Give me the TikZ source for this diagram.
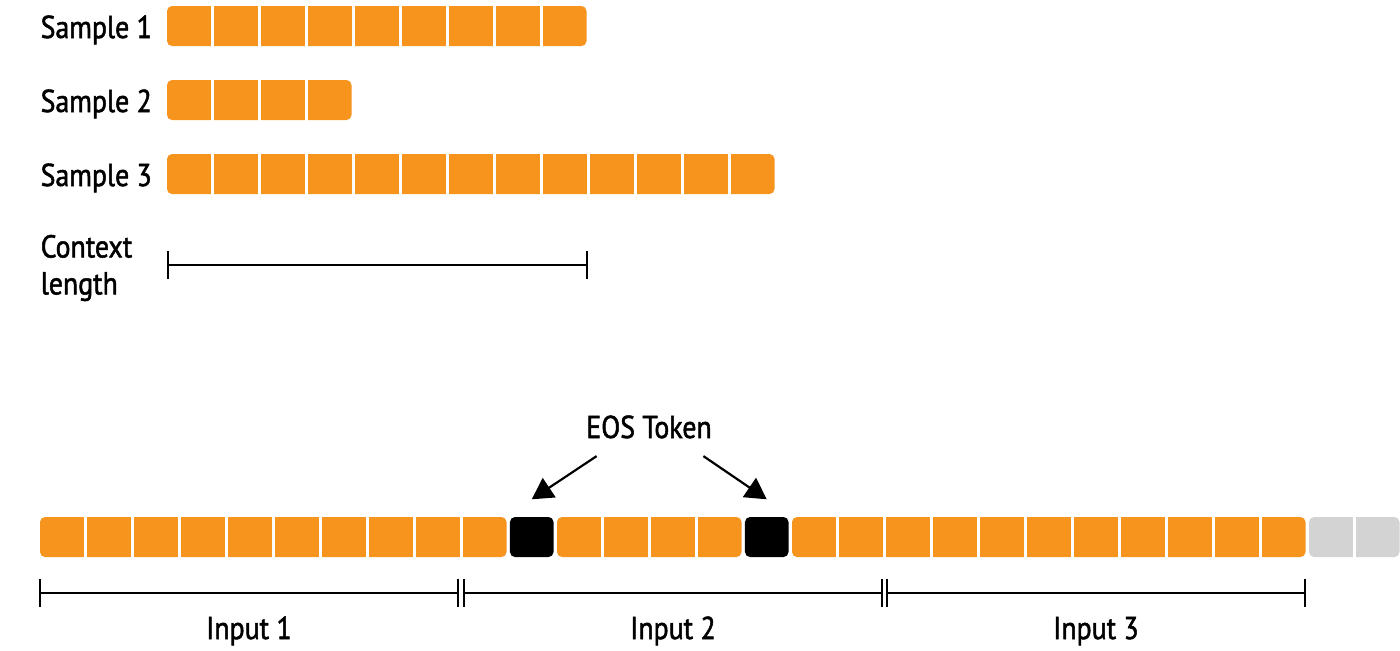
\documentclass[tikz,border=0pt]{standalone}
\usepackage{fontspec}
\setmainfont[FakeStretch=0.88, FakeBold=1.6]{PT Sans}
\usetikzlibrary{arrows.meta}
\definecolor{tok}{RGB}{247,148,30}
\definecolor{pad}{RGB}{211,211,211}
\newcommand{\cellw}{47}
\newcommand{\drawthin}{\draw[line width=0.022cm]}
\newcommand{\tokenrow}[4]{
    \fill[#4, rounded corners=0.05cm] (#1,#2-20) rectangle ++(#3*\cellw-3.5,40);
    \foreach \k in {2,...,#3}{
    \draw[white, line width=0.035cm] (#1+\k*\cellw-\cellw-1.75,#2-21)--++(0,42);
    }
}
\newcommand{\spanbar}[3]{
    \drawthin (#1,#3)--(#2,#3);
    \drawthin (#1,#3-14)--++(0,28);
    \drawthin (#2,#3-14)--++(0,28);
}
\tikzset{
  lbl/.style={inner sep=0pt, font=\fontsize{9}{10.5}\selectfont},
  eoscell/.style={fill=black, rounded corners=0.05cm, minimum width=0.435cm, minimum height=0.4cm, inner sep=0pt},
  eosarrow/.style={-{Triangle[length=0.21cm,width=0.23cm]}, line width=0.022cm}
}

\begin{document}
\begin{tikzpicture}[x=0.01cm, y=-0.01cm]
\useasboundingbox (0,0) rectangle (1400,650);
\node[lbl, anchor=base west] (s1) at (40,38) {Sample 1};
\node[lbl, anchor=base west] (s2) at (40,112) {Sample 2};
\node[lbl, anchor=base west] (s3) at (40,186) {Sample 3};
\node[lbl, anchor=west, align=left] (ctx) at (40,268) {Context\\length};
\tokenrow{167}{26}{9}{tok}
\tokenrow{167}{100}{4}{tok}
\tokenrow{167}{174}{13}{tok}
\spanbar{168}{587}{265}
% packed input
\tokenrow{40}{537}{10}{tok}
\node[eoscell] (eosA) at (40+10*\cellw+21.75,537) {};
\tokenrow{557}{537}{4}{tok}
\node[eoscell] (eosB) at (40+15*\cellw+21.75,537) {};
\tokenrow{792}{537}{11}{tok}
\tokenrow{1309}{537}{2}{pad}
\node[lbl, anchor=base] (eos) at (649,438) {EOS Token};
\draw[eosarrow] ([xshift=0.11cm, yshift=-0.17cm]eos.south west) -- ([yshift=0.17cm]eosA.north);
\draw[eosarrow] ([xshift=-0.09cm, yshift=-0.17cm]eos.south east) -- ([yshift=0.17cm]eosB.north);
\spanbar{40}{458}{593}\spanbar{464}{882}{593}\spanbar{887}{1305}{593}
\node[lbl, anchor=base] (in1) at (249,639) {Input 1};
\node[lbl, anchor=base] (in2) at (673,639) {Input 2};
\node[lbl, anchor=base] (in3) at (1096,639) {Input 3};
\end{tikzpicture}
\end{document}
